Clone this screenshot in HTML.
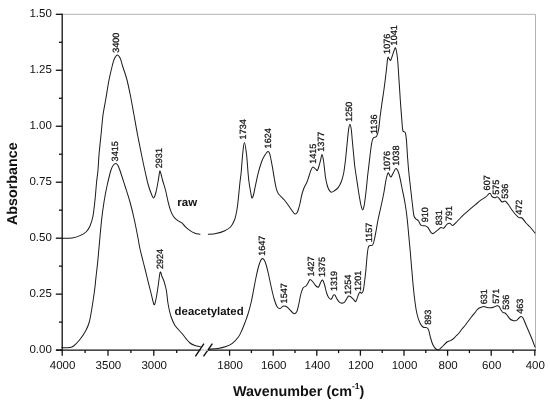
<!DOCTYPE html><html><head><meta charset="utf-8"><title>FTIR spectra</title><style>html,body{margin:0;padding:0;background:#fff}svg{display:block}text{font-family:"Liberation Sans",Arial,sans-serif;fill:#111;text-rendering:geometricPrecision}</style></head><body>
<svg width="550" height="406" viewBox="0 0 550 406">
<rect width="550" height="406" fill="#fff"/>
<path d="M62 14.3H535.5V350" fill="none" stroke="#b2b2b2" stroke-width="1"/>
<g stroke="#111" stroke-width="1.3" fill="none">
<path d="M62.2 13.8V350.7"/>
<path d="M56 350.1H200.5M207.5 350.1H535.8"/>
<path d="M55.8 14.30H62.2"/>
<path d="M59 42.28H62.2"/>
<path d="M55.8 70.27H62.2"/>
<path d="M59 98.25H62.2"/>
<path d="M55.8 126.23H62.2"/>
<path d="M59 154.22H62.2"/>
<path d="M55.8 182.20H62.2"/>
<path d="M59 210.18H62.2"/>
<path d="M55.8 238.17H62.2"/>
<path d="M59 266.15H62.2"/>
<path d="M55.8 294.13H62.2"/>
<path d="M59 322.12H62.2"/>
<path d="M55.8 350.10H62.2"/>
<path d="M62.20 350.1V355.7"/>
<path d="M85.10 350.1V353.1"/>
<path d="M108.00 350.1V355.7"/>
<path d="M130.90 350.1V353.1"/>
<path d="M153.80 350.1V355.7"/>
<path d="M176.70 350.1V353.1"/>
<path d="M229.60 350.1V355.7"/>
<path d="M251.40 350.1V353.1"/>
<path d="M273.20 350.1V355.7"/>
<path d="M295.00 350.1V353.1"/>
<path d="M316.80 350.1V355.7"/>
<path d="M338.60 350.1V353.1"/>
<path d="M360.40 350.1V355.7"/>
<path d="M382.20 350.1V353.1"/>
<path d="M404.00 350.1V355.7"/>
<path d="M425.80 350.1V353.1"/>
<path d="M447.60 350.1V355.7"/>
<path d="M469.40 350.1V353.1"/>
<path d="M491.20 350.1V355.7"/>
<path d="M513.00 350.1V353.1"/>
<path d="M534.80 350.1V355.7"/>
<path d="M195.4 356.3L203.9 343.7M203.5 356.3L212.4 343.7" stroke-width="1.4"/>
</g>
<path d="M201 350.1H208" stroke="#c8c8c8" stroke-width="1.2"/>
<g fill="none" stroke="#1c1c1c" stroke-width="1.02" stroke-linejoin="round" stroke-linecap="round">
<path d="M62.0 238.4C63.7 238.3 69.0 238.5 72.0 238.0C75.0 237.5 77.7 236.6 80.0 235.6C82.3 234.6 84.3 233.6 86.0 232.0C87.7 230.4 88.8 228.7 90.0 226.0C91.2 223.3 92.2 220.3 93.0 216.0C93.8 211.7 94.4 205.7 95.0 200.0C95.6 194.3 96.1 187.0 96.6 182.0C97.1 177.0 97.6 174.5 98.0 170.0C98.4 165.5 98.5 160.8 99.0 155.0C99.5 149.2 100.3 141.7 101.0 135.0C101.7 128.3 102.2 121.0 103.0 115.0C103.8 109.0 104.8 104.8 105.8 99.0C106.8 93.2 107.9 85.5 109.0 80.0C110.1 74.5 111.3 69.6 112.2 66.0C113.1 62.4 113.7 60.1 114.6 58.3C115.5 56.5 116.5 55.0 117.4 55.0C118.3 55.0 119.3 56.5 120.2 58.3C121.1 60.1 121.5 62.4 122.6 66.0C123.7 69.6 125.7 75.0 127.0 80.0C128.3 85.0 129.3 90.2 130.5 96.0C131.7 101.8 132.8 108.5 134.0 115.0C135.2 121.5 136.3 128.3 137.6 135.0C138.9 141.7 140.4 149.0 141.6 155.0C142.8 161.0 143.9 166.2 145.0 171.0C146.1 175.8 147.0 180.3 148.0 184.0C149.0 187.7 150.1 190.7 151.0 193.0C151.9 195.3 152.8 198.2 153.6 198.0C154.4 197.8 155.3 194.7 156.0 192.0C156.7 189.3 157.4 185.2 158.0 182.0C158.6 178.8 159.1 174.8 159.4 173.0C159.7 171.2 159.7 170.8 160.0 171.0C160.3 171.2 160.6 172.5 161.0 174.0C161.4 175.5 161.8 177.3 162.5 180.0C163.2 182.7 164.6 186.4 165.5 190.0C166.4 193.6 167.2 197.9 168.0 201.3C168.8 204.7 169.6 207.7 170.5 210.3C171.4 212.9 172.5 215.1 173.7 216.8C174.9 218.5 176.4 219.6 177.8 220.6C179.2 221.6 180.7 221.9 181.9 222.9C183.1 223.9 183.8 225.3 185.2 226.6C186.6 227.9 188.5 229.6 190.1 230.7C191.7 231.8 193.3 232.6 195.0 233.2C196.7 233.8 199.2 234.0 200.0 234.2"/>
<path d="M208.3 234.3C209.6 234.2 213.3 234.2 216.0 233.6C218.7 233.0 221.9 232.1 224.3 231.0C226.7 229.9 228.8 228.8 230.5 227.0C232.2 225.2 233.4 222.8 234.5 220.0C235.6 217.2 236.2 213.7 236.9 210.0C237.6 206.3 237.9 202.7 238.4 198.0C238.9 193.3 239.5 186.3 240.0 182.0C240.5 177.7 240.8 176.5 241.2 172.0C241.6 167.5 242.1 159.9 242.6 155.0C243.1 150.1 243.7 142.6 244.4 142.6C245.1 142.6 246.0 150.1 246.6 155.0C247.2 159.9 247.6 167.5 248.0 172.0C248.4 176.5 248.5 178.3 249.0 182.0C249.5 185.7 250.5 191.3 251.0 194.0C251.5 196.7 251.6 197.9 252.0 198.0C252.4 198.1 253.1 196.3 253.6 194.5C254.1 192.7 254.3 190.9 255.1 187.3C255.9 183.7 257.2 177.0 258.3 172.7C259.4 168.3 260.7 164.2 261.8 161.2C262.9 158.2 264.2 156.3 265.0 154.9C265.8 153.5 266.2 153.2 266.7 152.6C267.2 152.0 267.7 151.5 268.1 151.6C268.6 151.7 269.0 152.2 269.4 153.0C269.8 153.8 269.9 154.3 270.4 156.5C270.9 158.7 271.6 162.7 272.3 166.4C273.0 170.2 273.7 175.2 274.4 179.0C275.1 182.8 275.8 186.9 276.5 189.4C277.2 191.9 277.3 192.2 278.6 194.0C279.9 195.8 282.5 197.8 284.4 200.0C286.2 202.2 288.3 205.2 289.7 207.2C291.1 209.2 292.1 210.9 293.0 212.0C293.9 213.1 294.3 213.8 294.9 214.0C295.5 214.2 296.2 213.7 296.8 213.0C297.4 212.3 297.7 211.6 298.2 210.0C298.7 208.4 299.4 206.2 300.0 203.5C300.6 200.8 301.3 196.6 302.0 194.0C302.7 191.4 303.2 190.0 304.0 188.0C304.8 186.0 306.2 184.0 307.0 182.0C307.8 180.0 308.3 178.0 309.0 176.0C309.7 174.0 310.3 171.5 311.0 170.0C311.7 168.5 312.2 167.1 313.0 167.0C313.8 166.9 315.3 168.9 316.0 169.5C316.7 170.1 316.9 171.1 317.4 170.5C317.9 169.9 318.5 167.8 319.0 166.0C319.5 164.2 320.1 161.9 320.6 160.0C321.1 158.1 321.5 154.6 322.0 154.6C322.5 154.6 323.0 157.8 323.4 160.0C323.8 162.2 324.0 165.0 324.4 168.0C324.8 171.0 325.1 175.0 325.6 178.0C326.1 181.0 326.8 183.9 327.4 186.0C328.0 188.1 328.8 189.6 329.5 190.6C330.2 191.6 330.7 192.1 331.5 192.2C332.3 192.2 333.1 191.7 334.2 190.9C335.3 190.1 337.0 189.0 338.1 187.6C339.2 186.2 340.2 184.7 341.1 182.3C342.0 180.0 342.9 177.0 343.6 173.5C344.3 170.0 344.8 165.2 345.3 161.5C345.8 157.8 346.0 154.5 346.4 151.0C346.8 147.5 347.0 144.1 347.4 140.5C347.8 136.9 348.2 132.2 348.6 129.5C349.0 126.8 349.4 124.5 349.9 124.5C350.3 124.5 350.9 126.8 351.3 129.5C351.7 132.2 351.9 136.6 352.3 140.5C352.7 144.4 353.1 149.1 353.5 153.2C353.9 157.3 354.2 161.2 354.6 165.0C355.1 168.8 355.5 171.5 356.2 176.0C356.9 180.5 357.9 187.4 358.6 192.0C359.3 196.6 360.1 200.8 360.6 203.5C361.1 206.2 361.5 207.1 361.8 208.2C362.1 209.3 362.4 209.9 362.7 209.9C363.0 209.9 363.3 209.2 363.6 208.0C363.9 206.8 364.2 206.0 364.6 203.0C365.0 200.0 365.7 194.5 366.2 190.0C366.7 185.5 367.1 181.0 367.6 176.0C368.2 171.0 368.9 165.2 369.5 160.0C370.1 154.8 370.8 148.6 371.4 145.0C372.0 141.4 372.2 139.8 373.1 138.3C374.0 136.8 375.7 137.6 376.6 136.2C377.5 134.8 377.9 133.1 378.5 130.0C379.1 126.9 379.5 121.7 380.0 117.5C380.5 113.3 381.1 109.6 381.7 105.0C382.3 100.4 383.1 95.8 383.9 90.0C384.7 84.2 385.8 75.4 386.4 70.0C387.0 64.6 387.3 59.6 387.8 57.8C388.3 56.0 388.8 58.6 389.3 59.0C389.8 59.4 390.1 60.9 390.6 60.4C391.1 59.9 391.7 57.7 392.3 56.0C392.9 54.3 393.7 51.3 394.3 50.0C394.9 48.7 395.2 46.8 395.7 48.2C396.2 49.6 396.9 53.2 397.5 58.5C398.1 63.8 398.5 73.1 399.0 80.0C399.5 86.9 399.8 92.5 400.3 100.0C400.8 107.5 401.8 119.8 402.2 125.0C402.6 130.2 402.5 129.7 403.0 131.0C403.5 132.3 404.8 131.1 405.4 132.8C406.0 134.5 406.1 136.6 406.5 141.0C406.9 145.4 407.2 153.2 407.7 159.0C408.1 164.8 408.6 170.5 409.2 176.0C409.8 181.5 410.4 187.0 411.0 192.0C411.6 197.0 412.1 202.0 412.6 206.0C413.1 210.0 413.4 213.8 414.0 216.0C414.6 218.2 415.3 218.2 416.0 219.0C416.7 219.8 417.5 219.8 418.4 220.8C419.2 221.9 420.0 224.5 421.1 225.3C422.2 226.1 424.1 225.4 425.2 225.8C426.3 226.2 427.0 226.4 428.0 227.6C429.0 228.8 430.3 231.8 431.2 232.8C432.1 233.8 432.1 233.9 433.2 233.5C434.2 233.1 436.2 231.2 437.5 230.2C438.8 229.2 439.9 227.8 440.9 227.5C441.9 227.2 442.7 228.8 443.7 228.2C444.7 227.6 446.1 225.0 447.1 224.2C448.1 223.4 448.9 223.1 449.8 223.3C450.8 223.5 451.5 225.8 452.8 225.4C454.1 225.0 455.7 222.8 457.5 221.0C459.3 219.2 461.5 216.7 463.5 214.8C465.5 212.9 467.5 211.4 469.5 209.7C471.5 208.0 473.7 206.1 475.5 204.6C477.3 203.1 478.8 201.6 480.5 200.4C482.2 199.2 483.9 198.4 485.5 197.2C487.1 196.0 488.7 193.4 489.8 193.3C490.9 193.2 491.1 195.8 492.0 196.5C492.9 197.2 494.2 197.8 495.0 197.8C495.8 197.9 496.2 196.6 497.0 196.8C497.8 197.0 498.7 197.9 499.5 198.8C500.3 199.7 501.1 201.6 502.0 202.0C502.9 202.4 504.0 200.7 505.0 201.0C506.0 201.3 506.8 202.5 508.0 204.0C509.2 205.5 510.7 208.2 512.0 210.0C513.3 211.8 514.8 213.7 516.0 215.0C517.2 216.3 518.0 217.1 519.0 217.6C520.0 218.1 520.8 217.1 522.0 218.0C523.2 218.9 524.7 221.5 526.0 223.0C527.3 224.5 528.5 225.3 530.0 227.0C531.5 228.7 534.2 232.0 535.0 233.0"/>
<path d="M62.0 347.6C63.3 347.6 68.1 347.9 70.0 347.6C71.9 347.3 72.0 347.3 73.6 346.0C75.2 344.7 77.5 342.5 79.5 340.0C81.5 337.5 84.0 334.0 85.6 331.0C87.2 328.0 88.3 325.5 89.3 322.0C90.3 318.5 90.9 314.0 91.6 310.0C92.3 306.0 92.9 302.0 93.5 298.0C94.1 294.0 94.7 289.2 95.1 286.0C95.5 282.8 95.3 283.2 95.8 279.0C96.2 274.8 97.2 267.3 97.8 261.0C98.4 254.7 99.0 247.8 99.6 241.0C100.2 234.2 100.9 226.5 101.6 220.0C102.3 213.5 103.1 207.7 104.0 202.0C104.9 196.3 105.8 191.3 107.0 186.0C108.2 180.7 109.9 173.5 111.0 170.0C112.1 166.5 112.7 166.1 113.5 165.0C114.3 163.9 115.2 163.3 116.0 163.4C116.8 163.5 117.4 164.4 118.0 165.5C118.6 166.6 118.6 166.6 119.8 170.0C121.0 173.4 123.3 180.7 125.0 186.0C126.7 191.3 128.4 196.3 130.0 202.0C131.6 207.7 133.1 214.0 134.4 220.0C135.7 226.0 137.1 233.3 138.0 238.0C138.9 242.7 139.0 244.2 139.8 248.0C140.6 251.8 141.8 256.2 143.0 261.0C144.2 265.8 145.7 271.7 147.0 277.0C148.3 282.3 149.8 288.4 151.0 293.0C152.2 297.6 153.2 303.6 154.0 304.6C154.8 305.6 155.3 301.9 156.0 299.0C156.7 296.1 157.4 291.0 158.0 287.0C158.6 283.0 159.2 277.5 159.6 275.0C160.0 272.5 160.2 271.8 160.6 272.0C161.0 272.2 161.4 274.9 162.0 276.5C162.6 278.1 163.4 279.2 164.1 281.5C164.8 283.8 165.6 286.2 166.3 290.0C167.0 293.8 167.3 299.6 168.1 304.0C168.9 308.4 169.8 312.9 171.0 316.5C172.2 320.1 173.2 322.7 175.0 325.5C176.8 328.3 180.2 331.3 182.0 333.5C183.8 335.7 184.7 337.0 186.0 338.6C187.3 340.2 188.5 341.8 190.0 343.0C191.5 344.2 193.3 345.0 195.0 345.6C196.7 346.2 199.5 346.6 200.4 346.8"/>
<path d="M209.0 349.2C210.5 349.1 215.2 348.9 218.0 348.5C220.8 348.1 223.7 347.4 226.0 346.6C228.3 345.8 230.0 345.2 232.0 343.6C234.0 342.1 236.5 339.6 238.2 337.3C239.9 335.0 240.9 332.5 242.0 330.0C243.1 327.5 244.0 325.2 245.0 322.5C246.0 319.8 247.0 317.2 248.0 314.0C249.0 310.8 250.1 306.8 251.0 303.0C251.9 299.2 252.6 295.2 253.4 291.0C254.2 286.8 255.1 281.8 256.0 277.5C256.9 273.2 258.0 268.1 259.0 265.0C260.0 261.9 261.0 259.4 262.0 258.8C263.0 258.2 264.0 259.3 265.0 261.5C266.0 263.7 267.0 267.9 268.0 272.0C269.0 276.1 270.0 281.6 271.0 286.0C272.0 290.4 273.0 295.1 274.0 298.5C275.0 301.9 276.0 304.8 277.0 306.5C278.0 308.2 279.0 308.7 280.0 308.6C281.0 308.6 281.8 306.5 283.0 306.2C284.2 305.9 285.7 306.2 287.0 307.0C288.3 307.8 289.8 309.9 291.0 311.0C292.2 312.1 293.1 313.4 294.0 313.6C294.9 313.8 295.8 313.4 296.6 312.0C297.4 310.6 297.9 307.8 298.6 305.0C299.3 302.2 299.9 297.8 300.6 295.0C301.3 292.2 302.1 289.5 303.0 288.0C303.9 286.5 305.2 286.8 306.0 286.0C306.8 285.2 307.3 284.1 308.0 283.0C308.7 281.9 309.2 279.6 310.0 279.4C310.8 279.2 312.0 280.9 313.0 282.0C314.0 283.1 315.1 285.2 316.0 286.0C316.9 286.8 317.8 287.6 318.6 287.0C319.4 286.4 319.9 283.7 320.6 282.5C321.3 281.3 321.9 279.6 322.6 280.0C323.3 280.4 323.9 282.8 324.6 285.0C325.3 287.2 325.9 290.8 326.6 293.0C327.3 295.2 328.2 297.0 329.0 298.0C329.8 299.0 330.7 299.5 331.4 299.0C332.1 298.5 332.8 295.8 333.4 295.2C334.0 294.6 334.4 294.6 335.0 295.2C335.6 295.8 336.2 297.8 337.0 299.0C337.8 300.2 338.8 302.0 340.0 302.6C341.2 303.2 342.9 303.2 344.0 302.6C345.1 302.0 345.8 300.1 346.6 299.0C347.4 297.9 347.9 296.3 348.6 296.0C349.3 295.7 350.1 296.3 351.0 297.0C351.9 297.7 353.2 299.3 354.0 300.0C354.8 300.7 355.1 302.3 355.9 301.4C356.6 300.5 357.8 296.1 358.5 294.5C359.2 292.9 359.5 292.2 360.0 292.0C360.5 291.8 361.0 293.5 361.5 293.3C362.0 293.1 362.7 292.5 363.2 290.8C363.7 289.1 364.0 286.1 364.4 283.0C364.8 279.9 365.2 276.7 365.7 272.0C366.2 267.3 366.7 259.3 367.2 255.0C367.7 250.7 367.8 248.0 368.7 246.3C369.6 244.6 371.6 246.3 372.6 245.0C373.6 243.7 374.0 241.2 374.6 238.5C375.2 235.8 375.9 231.8 376.5 228.5C377.1 225.2 377.5 222.2 378.3 218.5C379.1 214.8 380.2 210.4 381.1 206.0C382.1 201.6 383.2 196.3 384.0 192.0C384.8 187.7 385.3 183.2 386.0 180.0C386.7 176.8 387.4 173.8 388.0 173.0C388.6 172.2 389.0 174.3 389.5 175.0C390.0 175.7 390.3 177.4 391.0 177.0C391.7 176.6 392.7 173.9 393.5 172.5C394.3 171.1 395.1 168.2 396.0 168.4C396.9 168.7 398.0 170.7 399.0 174.0C400.0 177.3 401.0 183.2 402.0 188.0C403.0 192.8 404.1 197.8 405.0 203.0C405.9 208.2 406.6 213.3 407.2 219.0C407.8 224.7 408.4 231.5 408.9 237.0C409.4 242.5 409.8 246.5 410.3 252.0C410.8 257.5 411.3 264.3 411.8 270.0C412.3 275.7 412.7 280.7 413.2 286.0C413.7 291.3 414.4 297.3 415.0 302.0C415.6 306.7 416.2 310.5 417.0 314.0C417.8 317.5 419.0 320.8 420.0 323.0C421.0 325.2 421.9 326.2 423.0 327.0C424.1 327.8 425.7 327.1 426.6 327.6C427.5 328.1 427.9 328.3 428.6 330.0C429.3 331.7 429.9 335.5 430.6 338.0C431.3 340.5 432.1 343.2 433.0 345.0C433.9 346.8 435.0 348.2 436.0 349.0C437.0 349.8 437.8 350.1 439.0 349.6C440.2 349.1 441.7 347.3 443.0 346.0C444.3 344.7 445.8 342.9 447.0 342.0C448.2 341.1 449.5 341.1 450.5 340.6C451.5 340.1 452.1 339.8 453.0 339.0C453.9 338.2 455.0 337.0 456.0 336.0C457.0 335.0 458.0 334.2 459.0 333.0C460.0 331.8 461.0 330.2 462.0 329.0C463.0 327.8 464.0 326.8 465.0 325.5C466.0 324.2 467.0 322.8 468.0 321.5C469.0 320.2 469.9 318.9 471.0 317.5C472.1 316.1 473.3 314.8 474.4 313.4C475.5 312.0 476.5 310.3 477.5 309.3C478.5 308.3 479.4 307.9 480.5 307.5C481.6 307.1 482.9 306.6 484.0 306.6C485.1 306.6 485.8 307.3 487.0 307.5C488.2 307.7 489.8 307.9 491.0 307.8C492.2 307.7 493.0 307.3 494.0 307.0C495.0 306.7 496.2 305.9 497.0 305.8C497.8 305.7 498.3 305.6 499.0 306.3C499.7 307.0 500.3 308.9 501.0 310.0C501.7 311.1 502.3 312.1 503.0 312.6C503.7 313.1 504.3 312.6 505.0 313.0C505.7 313.4 506.2 314.0 507.0 315.0C507.8 316.0 509.0 318.1 510.0 319.0C511.0 319.9 512.0 320.3 513.0 320.6C514.0 320.9 515.0 321.0 516.0 320.6C517.0 320.2 518.2 318.7 519.0 318.0C519.8 317.3 520.3 316.4 521.0 316.4C521.7 316.4 522.2 316.6 523.0 318.0C523.8 319.4 525.0 322.7 526.0 325.0C527.0 327.3 528.0 329.7 529.0 332.0C530.0 334.3 531.0 336.5 532.0 339.0C533.0 341.5 534.5 345.7 535.0 347.0"/>
</g>
<text x="51.8" y="16.9" font-size="11.5" text-anchor="end">1.50</text>
<text x="51.8" y="72.9" font-size="11.5" text-anchor="end">1.25</text>
<text x="51.8" y="128.8" font-size="11.5" text-anchor="end">1.00</text>
<text x="51.8" y="184.8" font-size="11.5" text-anchor="end">0.75</text>
<text x="51.8" y="240.8" font-size="11.5" text-anchor="end">0.50</text>
<text x="51.8" y="296.7" font-size="11.5" text-anchor="end">0.25</text>
<text x="51.8" y="352.7" font-size="11.5" text-anchor="end">0.00</text>
<text x="62.6" y="369" font-size="11.5" text-anchor="middle">4000</text>
<text x="108.4" y="369" font-size="11.5" text-anchor="middle">3500</text>
<text x="154.2" y="369" font-size="11.5" text-anchor="middle">3000</text>
<text x="230.1" y="369" font-size="11.5" text-anchor="middle">1800</text>
<text x="273.7" y="369" font-size="11.5" text-anchor="middle">1600</text>
<text x="317.3" y="369" font-size="11.5" text-anchor="middle">1400</text>
<text x="360.9" y="369" font-size="11.5" text-anchor="middle">1200</text>
<text x="404.5" y="369" font-size="11.5" text-anchor="middle">1000</text>
<text x="448.1" y="369" font-size="11.5" text-anchor="middle">800</text>
<text x="491.7" y="369" font-size="11.5" text-anchor="middle">600</text>
<text x="535.3" y="369" font-size="11.5" text-anchor="middle">400</text>
<text transform="translate(17.1 183.7) rotate(-90)" font-size="14.3" font-weight="bold" text-anchor="middle">Absorbance</text>
<text x="232.9" y="395.6" font-size="14.35" font-weight="bold">Wavenumber (cm<tspan font-size="8.6" dy="-7">-1</tspan><tspan dy="7">)</tspan></text>
<text x="177.3" y="206" font-size="11.5" font-weight="bold">raw</text>
<text x="174.6" y="314.5" font-size="11.4" font-weight="bold">deacetylated</text>
<text transform="translate(118.7 52.8) rotate(-90)" font-size="9.05" stroke="#111" stroke-width="0.25">3400</text>
<text transform="translate(117.9 161.4) rotate(-90)" font-size="9.05" stroke="#111" stroke-width="0.25">3415</text>
<text transform="translate(161.7 168.2) rotate(-90)" font-size="9.05" stroke="#111" stroke-width="0.25">2931</text>
<text transform="translate(163.4 269.0) rotate(-90)" font-size="9.05" stroke="#111" stroke-width="0.25">2924</text>
<text transform="translate(245.9 139.4) rotate(-90)" font-size="9.05" stroke="#111" stroke-width="0.25">1734</text>
<text transform="translate(270.7 148.4) rotate(-90)" font-size="9.05" stroke="#111" stroke-width="0.25">1624</text>
<text transform="translate(315.8 163.8) rotate(-90)" font-size="9.05" stroke="#111" stroke-width="0.25">1415</text>
<text transform="translate(323.8 151.8) rotate(-90)" font-size="9.05" stroke="#111" stroke-width="0.25">1377</text>
<text transform="translate(351.6 121.8) rotate(-90)" font-size="9.05" stroke="#111" stroke-width="0.25">1250</text>
<text transform="translate(377.1 134.0) rotate(-90)" font-size="9.05" stroke="#111" stroke-width="0.25">1136</text>
<text transform="translate(389.7 53.9) rotate(-90)" font-size="9.05" stroke="#111" stroke-width="0.25">1076</text>
<text transform="translate(396.6 45.4) rotate(-90)" font-size="9.05" stroke="#111" stroke-width="0.25">1041</text>
<text transform="translate(389.6 171.1) rotate(-90)" font-size="9.05" stroke="#111" stroke-width="0.25">1076</text>
<text transform="translate(398.6 165.7) rotate(-90)" font-size="9.05" stroke="#111" stroke-width="0.25">1038</text>
<text transform="translate(264.6 255.8) rotate(-90)" font-size="9.05" stroke="#111" stroke-width="0.25">1647</text>
<text transform="translate(286.6 303.4) rotate(-90)" font-size="9.05" stroke="#111" stroke-width="0.25">1547</text>
<text transform="translate(313.6 276.6) rotate(-90)" font-size="9.05" stroke="#111" stroke-width="0.25">1427</text>
<text transform="translate(325.4 277.1) rotate(-90)" font-size="9.05" stroke="#111" stroke-width="0.25">1375</text>
<text transform="translate(336.9 291.0) rotate(-90)" font-size="9.05" stroke="#111" stroke-width="0.25">1319</text>
<text transform="translate(350.9 294.8) rotate(-90)" font-size="9.05" stroke="#111" stroke-width="0.25">1254</text>
<text transform="translate(361.2 290.9) rotate(-90)" font-size="9.05" stroke="#111" stroke-width="0.25">1201</text>
<text transform="translate(372.3 242.2) rotate(-90)" font-size="9.05" stroke="#111" stroke-width="0.25">1157</text>
<text transform="translate(427.6 222.3) rotate(-90)" font-size="9.05" stroke="#111" stroke-width="0.25">910</text>
<text transform="translate(442.4 225.2) rotate(-90)" font-size="9.05" stroke="#111" stroke-width="0.25">831</text>
<text transform="translate(452.1 221.1) rotate(-90)" font-size="9.05" stroke="#111" stroke-width="0.25">791</text>
<text transform="translate(490.4 190.4) rotate(-90)" font-size="9.05" stroke="#111" stroke-width="0.25">607</text>
<text transform="translate(498.8 194.8) rotate(-90)" font-size="9.05" stroke="#111" stroke-width="0.25">575</text>
<text transform="translate(507.9 198.8) rotate(-90)" font-size="9.05" stroke="#111" stroke-width="0.25">536</text>
<text transform="translate(522.4 214.8) rotate(-90)" font-size="9.05" stroke="#111" stroke-width="0.25">472</text>
<text transform="translate(431.2 324.8) rotate(-90)" font-size="9.05" stroke="#111" stroke-width="0.25">893</text>
<text transform="translate(486.8 304.2) rotate(-90)" font-size="9.05" stroke="#111" stroke-width="0.25">631</text>
<text transform="translate(498.6 303.8) rotate(-90)" font-size="9.05" stroke="#111" stroke-width="0.25">571</text>
<text transform="translate(508.6 309.8) rotate(-90)" font-size="9.05" stroke="#111" stroke-width="0.25">536</text>
<text transform="translate(522.6 313.8) rotate(-90)" font-size="9.05" stroke="#111" stroke-width="0.25">463</text>
</svg></body></html>
